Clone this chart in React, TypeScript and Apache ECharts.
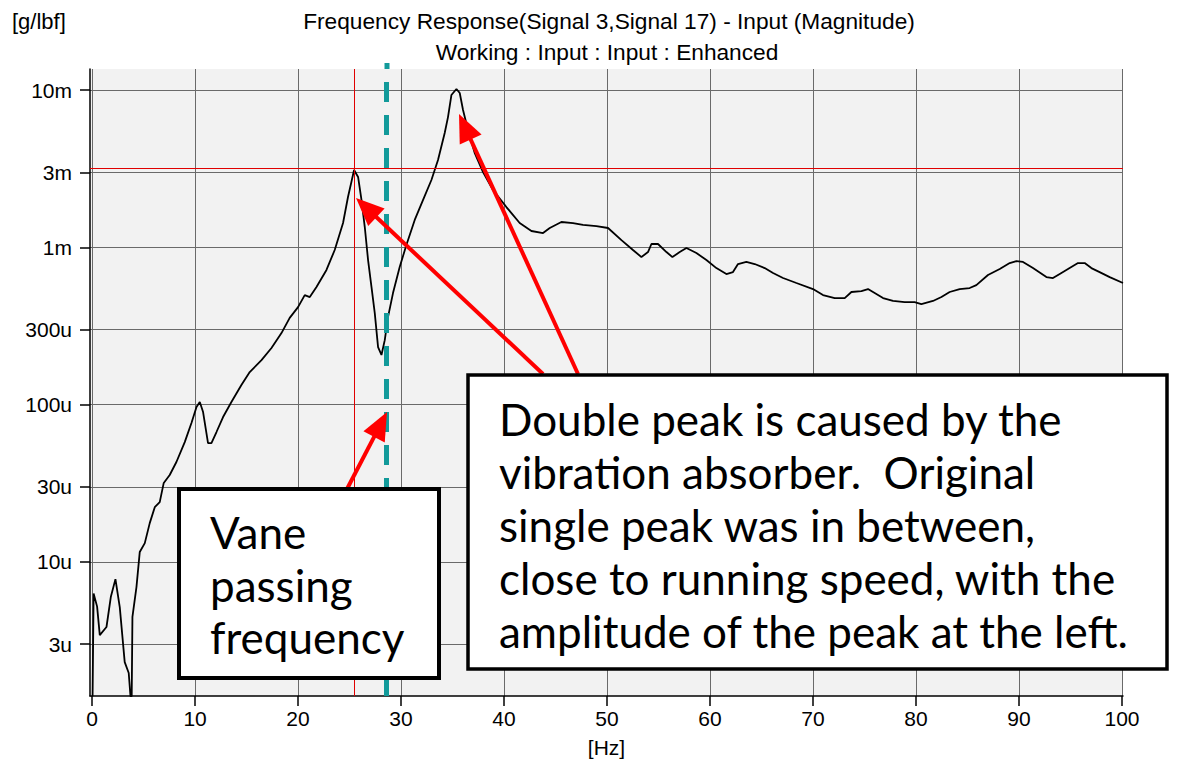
import React, { useEffect, useRef } from 'react';
import * as echarts from 'echarts';

// Frequency axis [Hz]
const freqHz = [
  0.05, 0.15, 0.49, 0.75, 1.4, 1.82, 2.27, 2.69, 3.17, 3.56, 3.73, 3.85, 3.92, 4.31, 4.63, 5.12, 5.6, 6.09, 6.57, 6.96,
  7.54, 8.19, 9.0, 9.65, 10.14, 10.46, 10.78, 11.26, 11.59, 12.08, 12.72, 13.53, 14.5, 15.31, 16.45, 17.42, 18.39, 19.19, 20.0, 20.65,
  21.14, 21.79, 22.76, 23.56, 24.37, 24.85, 25.18, 25.44, 25.83, 26.16, 26.48, 26.8, 27.13, 27.45, 27.77, 28.1, 28.42, 28.74, 29.22, 29.87,
  30.52, 31.33, 32.14, 32.95, 33.59, 34.24, 34.56, 34.89, 35.38, 35.7, 36.02, 36.5, 37.16, 37.96, 38.93, 40.23, 41.52, 42.66, 43.79, 44.44,
  45.57, 46.7, 47.67, 48.97, 50.1, 51.4, 52.52, 53.34, 53.98, 54.31, 54.95, 55.77, 56.35, 57.06, 57.71, 58.68, 59.65, 60.62, 61.59, 62.23,
  62.72, 63.53, 64.34, 65.31, 66.12, 67.09, 68.39, 70.0, 70.97, 72.11, 73.08, 73.73, 74.7, 75.34, 75.99, 76.8, 77.77, 78.9, 79.87, 80.52,
  81.65, 82.47, 83.27, 84.24, 85.21, 85.86, 86.99, 88.13, 89.1, 89.75, 90.39, 91.36, 92.66, 93.3, 94.12, 94.92, 95.73, 96.38, 97.03, 97.83,
  98.81, 100.1
];

// Magnitude [g/lbf]
const magnitude = [
  1.4e-6, 6.3e-6, 5.2e-6, 3.43e-6, 3.86e-6, 5.98e-6, 7.78e-6, 5.16e-6, 2.31e-6, 1.97e-6, 1.4e-6, 1.4e-6, 4.47e-6, 6.92e-6, 1.156e-5, 1.318e-5, 1.766e-5, 2.23e-5, 2.4e-5, 3.18e-5,
  3.57e-5, 4.32e-5, 5.78e-5, 7.64e-5, 9.66e-5, 1.04e-4, 8.97e-5, 5.7e-5, 5.7e-5, 6.7e-5, 8.34e-5, 1.04e-4, 1.333e-4, 1.61e-4, 1.92e-4, 2.29e-4, 2.85e-4, 3.56e-4, 4.17e-4, 4.97e-4,
  4.83e-4, 5.6e-4, 7.18e-4, 9.62e-4, 1.427e-3, 2.09e-3, 2.6e-3, 3.1e-3, 2.8e-3, 2.0e-3, 1.346e-3, 8.3e-4, 5.6e-4, 3.82e-4, 2.32e-4, 2.07e-4, 2.57e-4, 3.61e-4, 5.12e-4, 7.5e-4,
  1.035e-3, 1.493e-3, 2.0e-3, 2.68e-3, 3.59e-3, 5.33e-3, 6.73e-3, 9.29e-3, 1.015e-2, 9.57e-3, 7.46e-3, 5.57e-3, 3.97e-3, 3.01e-3, 2.31e-3, 1.803e-3, 1.427e-3, 1.27e-3, 1.233e-3, 1.327e-3,
  1.449e-3, 1.427e-3, 1.387e-3, 1.365e-3, 1.327e-3, 1.112e-3, 9.62e-4, 8.67e-4, 9.33e-4, 1.05e-3, 1.05e-3, 9.33e-4, 8.67e-4, 9.33e-4, 9.91e-4, 9.2e-4, 8.3e-4, 7.38e-4, 6.76e-4, 6.96e-4,
  7.83e-4, 8.07e-4, 7.83e-4, 7.38e-4, 6.87e-4, 6.38e-4, 5.93e-4, 5.43e-4, 4.97e-4, 4.76e-4, 4.76e-4, 5.2e-4, 5.27e-4, 5.43e-4, 5.12e-4, 4.76e-4, 4.56e-4, 4.49e-4, 4.49e-4, 4.36e-4,
  4.56e-4, 4.83e-4, 5.2e-4, 5.43e-4, 5.51e-4, 5.75e-4, 6.67e-4, 7.28e-4, 7.94e-4, 8.18e-4, 8.07e-4, 7.38e-4, 6.47e-4, 6.38e-4, 6.87e-4, 7.38e-4, 7.94e-4, 7.94e-4, 7.38e-4, 6.96e-4,
  6.47e-4, 5.93e-4
];

const xTickValues = [0, 10, 20, 30, 40, 50, 60, 70, 80, 90, 100];
const yTickValues = [3e-6, 1e-5, 3e-5, 1e-4, 3e-4, 1e-3, 3e-3, 1e-2];
const yTickLabels = ['3u', '10u', '30u', '100u', '300u', '1m', '3m', '10m'];
const yRange = [1.406e-6, 1.36e-2];
const xRange = [-0.2, 100.1];

const cursorHz = 25.5;
const cursorValue = 3.15e-3;
const runningSpeedHz = 28.6;

const titleText = 'Frequency Response(Signal 3,Signal 17) - Input (Magnitude)';
const subtitleText = 'Working : Input : Input : Enhanced';
const yUnit = '[g/lbf]';
const xUnit = '[Hz]';
const vaneLines = ['Vane', 'passing', 'frequency'];
const noteLines = [
  'Double peak is caused by the',
  'vibration absorber.  Original',
  'single peak was in between,',
  'close to running speed, with the',
  'amplitude of the peak at the left.'
];

const SANS = '"Liberation Sans", Arial, sans-serif';
const LATO = 'Lato, "Open Sans", sans-serif';

export default function App() {
  const ref = useRef<HTMLDivElement>(null);
  useEffect(() => {
    const chart = echarts.init(ref.current as HTMLDivElement, null, { renderer: 'svg' });
    const lg = (v: number) => Math.log10(v);
    const data = freqHz.map((f, i) => [f, lg(magnitude[i])]);
    const yFmt = (v: number) => {
      for (let i = 0; i < yTickValues.length; i++) {
        if (Math.abs(lg(yTickValues[i]) - v) < 1e-6) return yTickLabels[i];
      }
      return '';
    };

    const arrow = (tx: number, ty: number, fx: number, fy: number) => {
      const dx = tx - fx, dy = ty - fy;
      const len = Math.sqrt(dx * dx + dy * dy);
      const ux = dx / len, uy = dy / len;
      const hl = 28, hw = 12;
      const bx = tx - ux * hl, by = ty - uy * hl;
      const px = -uy, py = ux;
      return [
        { type: 'line', z: 100, shape: { x1: fx, y1: fy, x2: bx + ux * 2, y2: by + uy * 2 }, style: { stroke: '#ff0000', lineWidth: 4 } },
        { type: 'polygon', z: 100, shape: { points: [[tx, ty], [bx + px * hw, by + py * hw], [bx - px * hw, by - py * hw]] }, style: { fill: '#ff0000' } }
      ];
    };

    const texts: any[] = [];
    vaneLines.forEach((t, i) => texts.push({ type: 'text', z: 102, x: 210, y: 532 + i * 52.5, style: { text: t, font: `44px ${LATO}`, fill: '#000', textAlign: 'left', textVerticalAlign: 'middle' } }));
    noteLines.forEach((t, i) => texts.push({ type: 'text', z: 102, x: 499, y: 419 + i * 53, style: { text: t, font: `44px ${LATO}`, fill: '#000', textAlign: 'left', textVerticalAlign: 'middle' } }));

    chart.setOption({
      animation: false,
      grid: { left: 90, right: 72, top: 69, bottom: 73, show: true, backgroundColor: '#f2f2f2', borderWidth: 0 },
      xAxis: {
        type: 'value', min: xRange[0], max: xRange[1],
        name: xUnit, nameLocation: 'middle', nameGap: 41,
        nameTextStyle: { color: '#000', fontFamily: SANS, fontSize: 21 },
        axisLine: { show: true, onZero: false, lineStyle: { color: '#000', width: 1.5 } },
        axisTick: { show: true, length: 10, customValues: xTickValues, lineStyle: { color: '#000', width: 1.5 } },
        axisLabel: { customValues: xTickValues, color: '#000', fontFamily: SANS, fontSize: 21, margin: 12 },
        splitLine: { show: true, lineStyle: { color: '#6a6a6a', width: 1 } }
      },
      yAxis: {
        type: 'value', min: lg(yRange[0]), max: lg(yRange[1]),
        axisLine: { show: true, onZero: false, lineStyle: { color: '#000', width: 1.5 } },
        axisTick: { show: true, length: 10, customValues: yTickValues.map(lg), lineStyle: { color: '#000', width: 1.5 } },
        axisLabel: { customValues: yTickValues.map(lg), formatter: yFmt, color: '#000', fontFamily: SANS, fontSize: 21, margin: 18 },
        splitLine: { show: true, lineStyle: { color: '#6a6a6a', width: 1 } }
      },
      series: [{
        type: 'line', data, showSymbol: false, symbol: 'none', clip: true,
        lineStyle: { color: '#000', width: 1.8 },
        markLine: {
          silent: true, symbol: ['none', 'none'], label: { show: false }, animation: false,
          data: [
            { xAxis: cursorHz, lineStyle: { color: '#e00000', width: 1, type: 'solid' } },
            { yAxis: lg(cursorValue), lineStyle: { color: '#e00000', width: 1, type: 'solid' } },
            { xAxis: runningSpeedHz, lineStyle: { color: '#129a9a', width: 5, type: [20, 13] } }
          ]
        }
      }],
      graphic: [
        { type: 'text', x: 609, y: 21, style: { text: titleText, font: `22.7px ${SANS}`, fill: '#000', textAlign: 'center', textVerticalAlign: 'middle' } },
        { type: 'text', x: 607, y: 52, style: { text: subtitleText, font: `22.7px ${SANS}`, fill: '#000', textAlign: 'center', textVerticalAlign: 'middle' } },
        { type: 'text', x: 12, y: 21, style: { text: yUnit, font: `22px ${SANS}`, fill: '#000', textAlign: 'left', textVerticalAlign: 'middle' } },
        { type: 'line', z: 5, shape: { x1: 387, y1: 63, x2: 387, y2: 69 }, style: { stroke: '#129a9a', lineWidth: 5 } },
        ...arrow(356, 198, 543, 374),
        ...arrow(459, 114, 578, 374),
        ...arrow(387, 412, 347, 489),
        { type: 'rect', z: 101, shape: { x: 179, y: 489, width: 260, height: 189 }, style: { fill: '#fff', stroke: '#000', lineWidth: 4 } },
        { type: 'rect', z: 101, shape: { x: 468, y: 375, width: 699, height: 294 }, style: { fill: '#fff', stroke: '#000', lineWidth: 3.5 } },
        ...texts
      ]
    });
    return () => chart.dispose();
  }, []);
  return <div ref={ref} style={{ position: 'fixed', left: 0, top: 0, width: 1195, height: 769, background: '#fff' }} />;
}
